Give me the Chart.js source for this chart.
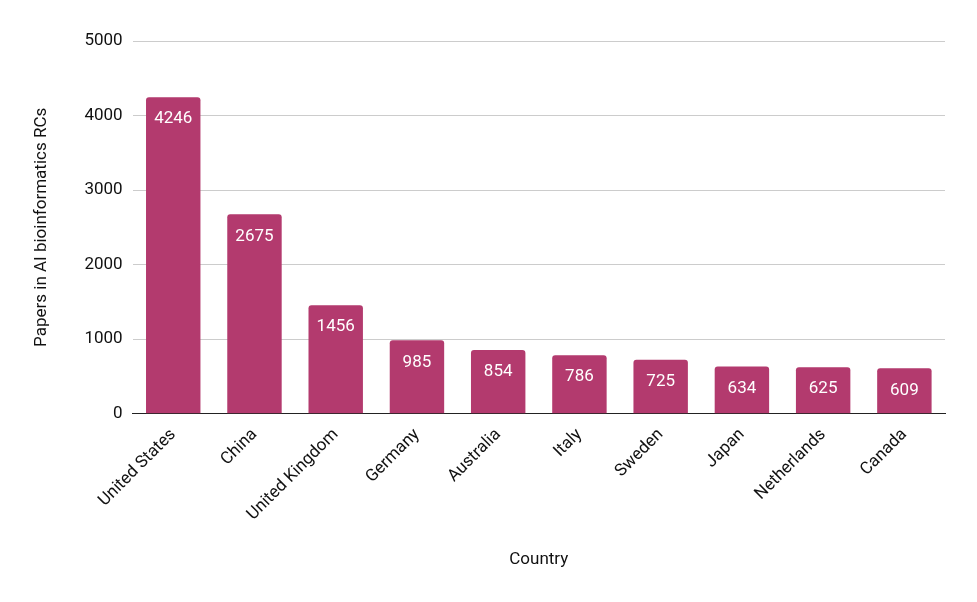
<!DOCTYPE html>
<html>
<head>
<meta charset="utf-8">
<script src="https://cdn.jsdelivr.net/npm/chart.js@4"></script>
<style>
  body { margin: 0; background: #fff; }
  #wrap { width: 977px; height: 602px; }
</style>
</head>
<body>
<div id="wrap"><canvas id="chart"></canvas></div>
<script>
const countries = ['United States','China','United Kingdom','Germany','Australia','Italy','Sweden','Japan','Netherlands','Canada'];
const papers = [4246, 2675, 1456, 985, 854, 786, 725, 634, 625, 609];

// white value labels just inside the top of each bar
const barLabels = {
    id: 'barLabels',
    afterDatasetsDraw(chart) {
        const ctx = chart.ctx;
        const meta = chart.getDatasetMeta(0);
        ctx.save();
        ctx.fillStyle = '#fff';
        ctx.font = '17px Roboto';
        ctx.textAlign = 'center';
        ctx.textBaseline = 'middle';
        meta.data.forEach((bar, i) => {
            ctx.fillText(papers[i], bar.x, bar.y + 22);
        });
        ctx.restore();
    }
};

const ctx = document.getElementById('chart').getContext('2d');
const chart = new Chart(ctx, {
    type: 'bar',
    data: {
        labels: countries,
        datasets: [{
            data: papers,
            backgroundColor: '#b33a6e',
            borderRadius: {topLeft: 3, topRight: 3},
            borderSkipped: 'bottom',
            barPercentage: 0.67,
            categoryPercentage: 1
        }]
    },
    options: {
        responsive: true,
        maintainAspectRatio: false,
        animation: false,
        layout: { padding: { left: 28, right: 32, top: 41, bottom: 28 } },
        plugins: { legend: { display: false }, tooltip: { enabled: false } },
        scales: {
            x: {
                grid: { display: false },
                border: { color: '#222' },
                ticks: { color: '#111', font: { family: 'Roboto', size: 17 }, maxRotation: 45, minRotation: 45 },
                title: { display: true, text: 'Country', color: '#111', font: { family: 'Roboto', size: 17 }, padding: { top: 22 } }
            },
            y: {
                min: 0, max: 5000,
                ticks: { stepSize: 1000, color: '#111', font: { family: 'Roboto', size: 17 }, padding: 10,
                         callback: v => String(v) },
                grid: { color: '#ccc', drawTicks: false },
                border: { display: false },
                title: { display: true, text: 'Papers in AI bioinformatics RCs', color: '#111', font: { family: 'Roboto', size: 17 }, padding: { bottom: 22 } }
            }
        }
    },
    plugins: [barLabels]
});
</script>
</body>
</html>
